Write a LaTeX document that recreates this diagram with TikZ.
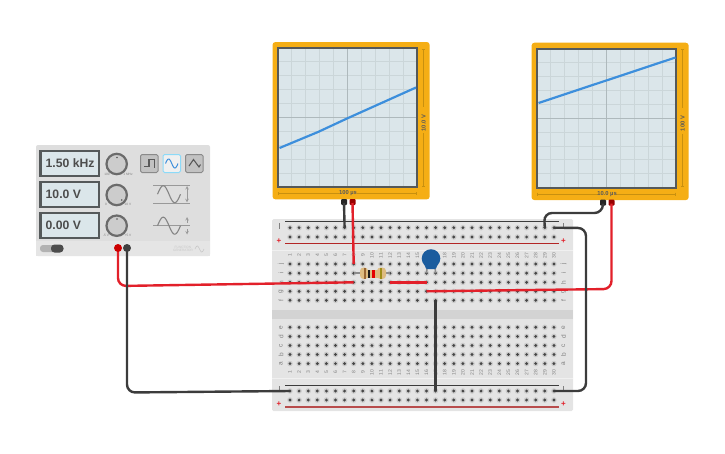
\documentclass[tikz,border=0pt]{standalone}
\usepackage{fontspec}
\setmainfont{Liberation Sans}
\definecolor{scopeorange}{HTML}{F5AE15}
\definecolor{scoperule}{HTML}{C8900F}
\definecolor{screenblue}{HTML}{DBE6EA}
\definecolor{screenline}{HTML}{CBD6D9}
\definecolor{screenmid}{HTML}{AEB9BC}
\definecolor{framegrey}{HTML}{55595A}
\definecolor{tracecol}{HTML}{3D8FDC}
\definecolor{wirered}{HTML}{E2202A}
\definecolor{wireblack}{HTML}{3C3C3C}
\definecolor{boardgrey}{HTML}{E4E4E4}
\definecolor{bandgrey}{HTML}{D3D3D3}
\definecolor{panelgrey}{HTML}{DEDEDE}
\definecolor{iconedge}{HTML}{8A8A8A}
\definecolor{restan}{HTML}{DDBB80}
\definecolor{capblue}{HTML}{1A5C9E}
\tikzset{
    redwire/.style={draw=wirered,line width=2.4pt,rounded corners=8pt},
    blackwire/.style={draw=wireblack,line width=2.4pt,rounded corners=8pt},
    trace/.style={draw=tracecol,line width=2.2pt},
    display/.style={draw=framegrey,line width=2.4pt,fill=screenblue},
    readout/.style={text=black!70,font=\fontsize{12.2}{13}\selectfont\bfseries,anchor=west,inner sep=0pt},
    knob/.style={draw=black!58,line width=2.2pt,fill=black!20},
    tinylabel/.style={text=black!50,font=\fontsize{3.2}{3.6}\selectfont,inner sep=0pt,align=center},
    boardlabel/.style={text=black!50,font=\fontsize{5}{5}\selectfont,inner sep=0pt,rotate=90},
    scopelabel/.style={text=black!65,font=\fontsize{5.8}{6}\selectfont\bfseries,inner sep=0pt},
    wavebtn/.style={draw=iconedge,line width=1pt,fill=black!24,rounded corners=1.5pt},
    waveicon/.style={draw=black!48,line width=1.1pt},
    scaleline/.style={draw=black!40,line width=.6pt},
    rail/.style={line width=1.1pt},
}
\begin{document}
\begin{tikzpicture}[x=1pt,y=-1pt]
    \useasboundingbox (0,0) rectangle (725,453);

    % function generator
    \fill[panelgrey,rounded corners=2pt] (36,145) rectangle (210,256);
    \fill[black!10] (36,241) rectangle (210,256);
    \foreach \y/\txt/\nm in {151/1.50 kHz/freq,182/10.0 V/ampl,213/0.00 V/offs}
    {
        \draw[display] (40.5,\y) rectangle (99,\y+25);
        \node[readout] (\nm) at (45.5,\y+12.5) {\txt};
    }
    \foreach \y in {164,195,225.7}
    \draw[knob] (116.7,\y) circle (10.2);
    \fill[black!65] (117,157.5) circle (.9);
    \fill[black!65] (121.7,200) circle (.9);
    \fill[black!65] (117,219) circle (.9);
    \node[tinylabel] (k1a) at (107,174) {100};
    \node[tinylabel] (k1b) at (128,174) {1 MHz};
    \node[tinylabel] (k2a) at (106,204.5) {0};
    \node[tinylabel] (k2b) at (128,204.5) {10 V};
    \node[tinylabel] (k3a) at (106,235.5) {-5 V};
    \node[tinylabel] (k3b) at (128,235.5) {+5 V};

    % wave buttons
    \draw[wavebtn] (140.5,154.5) rectangle (158,172.5);
    \draw[waveicon,black!65] (144,166.5) -- (149,166.5) -- (149,159.5) -- (154.5,159.5) -- (154.5,168);
    \draw[draw=cyan!45,line width=1pt,fill=black!6,rounded corners=1.5pt] (163,154.5) rectangle (180.5,172.5);
    \draw[draw=tracecol,line width=1pt,domain=0:1,samples=30] plot ({165.5+12.5*\x},{163.5-4.5*sin(360*\x)});
    \draw[wavebtn] (185.5,154.5) rectangle (203,172.5);
    \draw[waveicon,black!65] (189,166) -- (193.5,159.5) -- (199,167) -- (200.5,164.5);

    % amplitude and offset icons
    \draw[scaleline] (153,185) -- (190,185);
    \draw[scaleline] (153,203.3) -- (190,203.3);
    \draw[waveicon,domain=0:1,samples=40] plot ({157.5+23*\x},{194.2-8.5*sin(360*\x)});
    \draw[scaleline,<->,>=stealth] (187,186) -- (187,202.3);
    \draw[scaleline] (153,225.7) -- (190,225.7);
    \draw[waveicon,domain=0:1,samples=40] plot ({157.5+23*\x},{225.7-8.5*sin(360*\x)});
    \draw[scaleline,->,>=stealth] (187,222.5) -- (187,217);
    \draw[scaleline,->,>=stealth] (187,229) -- (187,234.5);

    % switch, logo, terminals
    \fill[black!30,rounded corners=3pt] (40,245) rectangle (62,252);
    \fill[black!70,rounded corners=3.5pt] (51,244.5) rectangle (63.5,252.5);
    \node[tinylabel,text=black!22] (logo) at (183,249) {FUNCTION\\GENERATOR};
    \draw[black!22,line width=.6pt,domain=0:1,samples=20] plot ({195+9*\x},{249-3*sin(360*\x)});

    % oscilloscopes
    \foreach \ox/\oy/\nm in {272.5/42/scopeA,531.5/42.7/scopeB}
    {
        \begin{scope}[shift={(\ox,\oy)}]
            \fill[scopeorange,rounded corners=3pt] (0,0) rectangle (157.2,157.4);
            \fill[screenblue] (5.5,6) rectangle (144.8,145);
            \foreach \i in {1,...,9}
            {
                \draw[screenline,line width=.9pt] ({5.5+13.93*\i},6) -- ({5.5+13.93*\i},145);
                \draw[screenline,line width=.9pt] (5.5,{6+13.9*\i}) -- (144.8,{6+13.9*\i});
            }
            \draw[screenmid,line width=1pt] (75.15,6) -- (75.15,145);
            \draw[screenmid,line width=1pt] (5.5,75.5) -- (144.8,75.5);
            \draw[draw=framegrey,line width=2pt] (5.5,6) rectangle (144.8,145);
            \draw[scoperule,line width=.6pt] (6,150) -- (6,153) (6,151.5) -- (66,151.5) (84,151.5) -- (144,151.5) (144,150) -- (144,153);
            \draw[scoperule,line width=.6pt] (149.5,7) -- (152.5,7) (151,7) -- (151,65) (151,91) -- (151,144) (149.5,144) -- (152.5,144);
            \fill[black!85,rounded corners=1pt] (68.5,157) rectangle (74.5,163);
            \fill[red!60!black,rounded corners=1pt] (77,157) rectangle (83,163);
            \coordinate (\nm black) at (71.5,161);
            \coordinate (\nm red) at (80,161);
        \end{scope}
    }
    \node[scopelabel] (timeA) at (348,193.5) {100 µs};
    \node[scopelabel,rotate=90] (voltA) at (423.5,123) {10.0 V};
    \node[scopelabel] (timeB) at (607,193.7) {10.0 µs};
    \node[scopelabel,rotate=90] (voltB) at (682.5,123.5) {100 V};
    \draw[trace] (279.5,148) -- (318,132) -- (347,118.5) -- (416,87.5);
    \draw[trace] (538.5,103) -- (675.5,57.5);

    % breadboard
    \fill[boardgrey,rounded corners=1.5pt] (272,219) rectangle (573,411);
    \fill[bandgrey] (272,310) rectangle (573,318.5);
    \draw[black!6,line width=1pt] (272,250) -- (573,250);
    \draw[black!6,line width=1pt] (272,378) -- (573,378);
    \draw[wireblack,rail] (285,221.7) -- (559,221.7);
    \draw[red!65!black!85,rail] (285,243.3) -- (559,243.3);
    \draw[wireblack,rail] (285,385.3) -- (559,385.3);
    \draw[red!60!black!70,rail] (285,407) -- (559,407);
    \foreach \rw/\y in {ta/227.7,tb/237,j/264,i/273.2,h/282.3,g/291.3,f/300.3,e/327.3,d/336.4,c/345.5,b/354.5,a/363.6,ba/391,bb/400}
    \foreach \c in {1,...,30}
    {
        \pgfmathsetmacro\hx{290+9.1*(\c-1)}
        \coordinate (\rw\c) at (\hx,\y);
        \fill[black!20] (\hx,\y) circle (2.8);
        \fill[black!72] (\hx,\y) circle (1.6);
    }
    \foreach \c in {1,...,30}
    {
        \pgfmathsetmacro\hx{290+9.1*(\c-1)}
        \node[boardlabel] (numT\c) at (\hx,255.5) {\c};
        \node[boardlabel] (numB\c) at (\hx,372.5) {\c};
    }
    \foreach \lt/\y in {j/264,i/273.2,h/282.3,g/291.3,f/300.3,e/327.3,d/336.4,c/345.5,b/354.5,a/363.6}
    {
        \node[boardlabel,font=\fontsize{6.5}{6.5}\selectfont] (letL\lt) at (281,\y) {\lt};
        \node[boardlabel,font=\fontsize{6.5}{6.5}\selectfont] (letR\lt) at (563.5,\y) {\lt};
    }
    \foreach \x/\nm in {279/L,563.5/R}
    {
        \draw[black!50,line width=.9pt] (\x,223) -- (\x,228.5);
        \draw[black!50,line width=.9pt] (\x,386) -- (\x,391.5);
        \node[text=wirered,font=\fontsize{8}{8}\selectfont\bfseries,inner sep=0pt] (plusT\nm) at (\x,241) {+};
        \node[text=wirered,font=\fontsize{8}{8}\selectfont\bfseries,inner sep=0pt] (plusB\nm) at (\x,404) {+};
    }

    % resistor and capacitor
    \draw[black!45,line width=1.5pt] (i8) -- (i12);
    \fill[restan,rounded corners=3.5pt] (360,267.5) rectangle (368,279);
    \fill[restan,rounded corners=3.5pt] (377,267.5) rectangle (386,279);
    \fill[restan] (363,269.5) rectangle (382,277.5);
    \fill[brown!80!black] (363.5,268) rectangle (366,278.5);
    \fill[black!90] (367.5,269.5) rectangle (370,277.5);
    \fill[red!90!black] (372,269.5) rectangle (374.5,277.5);
    \fill[olive!70!brown] (380,268) rectangle (381.5,278.5);
    \draw[black!45,line width=1.5pt] (i16) -- ++(1,-10);
    \draw[black!45,line width=1.5pt] (i17) -- ++(-1,-10);
    \fill[capblue] (431,258.5) circle (9.3);
    \fill[capblue,rounded corners=1pt] (423.5,261) -- (438.5,261) -- (436,269) -- (426,269) -- cycle;

    % named ends of the wires
    \coordinate (fgred) at (118,248);
    \coordinate (fgblack) at (127,248);
    \coordinate (cornerA) at (118,286);
    \coordinate (cornerB) at (127,392.5);
    \coordinate (cornerC) at (586,391);
    \coordinate (cornerD) at (586,228);
    \coordinate (cornerE) at (611.5,289);
    \coordinate (cornerF) at (602.5,213);
    \coordinate (cornerG) at (544,213);

    \draw[blackwire] (scopeAblack) -- (ta7);
    \draw[redwire] (scopeAred) -- (j8);
    \draw[redwire] (fgred) -- (cornerA) -- (h8);
    \draw[redwire] (h12) -- (h16);
    \draw[redwire] (scopeBred) -- (cornerE) -- (g16);
    \draw[blackwire] (fgblack) -- (cornerB) -- (ba1);
    \draw[blackwire] (f17) -- (ba17);
    \draw[blackwire] (ba30) -- (cornerC) -- (cornerD) -- (ta30);
    \draw[blackwire] (scopeBblack) -- (cornerF) -- (cornerG) -- (ta29);

    % terminals of the generator
    \fill[red!80!black] (fgred) circle (4);
    \fill[black!75] (fgblack) circle (4);
\end{tikzpicture}
\end{document}
